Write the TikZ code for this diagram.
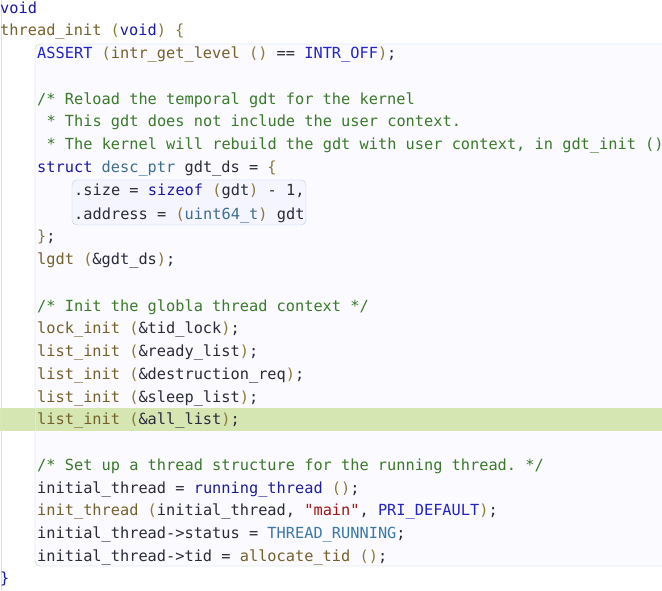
\documentclass[tikz,border=0pt]{standalone}
\usepackage{fontspec}
\setmonofont{DejaVu Sans Mono}
\definecolor{kw}{HTML}{1A1AA6}
\definecolor{fn}{HTML}{74612A}
\definecolor{pa}{HTML}{8A7A3A}
\definecolor{mac}{HTML}{2323C8}
\definecolor{typ}{HTML}{3E6E8E}
\definecolor{cst}{HTML}{3A78A8}
\definecolor{cmt}{HTML}{3A7A2A}
\definecolor{str}{HTML}{A31515}
\definecolor{var}{HTML}{2A2A3A}
\definecolor{rt}{HTML}{1E1E9A}
\definecolor{boxc}{HTML}{B8CFE0}
\definecolor{hl}{HTML}{D5E6B2}
\newcommand{\K}[1]{\textcolor{kw}{#1}}
\newcommand{\F}[1]{\textcolor{fn}{#1}}
\newcommand{\Pa}[1]{\textcolor{pa}{#1}}
\newcommand{\M}[1]{\textcolor{mac}{#1}}
\newcommand{\T}[1]{\textcolor{typ}{#1}}
\newcommand{\C}[1]{\textcolor{cmt}{#1}}
\newcommand{\Sx}[1]{\textcolor{str}{#1}}
\begin{document}
\begin{tikzpicture}[x=1pt,y=-1pt,
  ln/.style={anchor=base west,inner sep=0pt,font=\ttfamily\fontsize{15.3}{18}\selectfont,text=var}]
\useasboundingbox (0,0) rectangle (662,591);
\fill[white] (0,0) rectangle (662,591);
\fill[hl] (0,408) rectangle (662,431);
\draw[boxc,fill=blue!3,fill opacity=0.5,rounded corners=5pt] (35,44) rectangle (675,566);
\fill[hl] (35.5,408) rectangle (662,431);
\draw[boxc,fill=blue!4,rounded corners=5pt] (72,180) rectangle (306,225);
\draw[boxc!60] (0.8,0) -- (0.8,591);
\def\X{37}\def\Y#1{#1+5}
\node[ln] (l0) at (0,14) {\K{void}};
\node[ln] (l1) at (0,36) {\F{thread\_init} \Pa{(}\K{void}\Pa{)} \Pa{\{}};
\node[ln] (l2) at (37,59) {\M{ASSERT} \Pa{(}\F{intr\_get\_level} \Pa{()} == \M{INTR\_OFF}\Pa{)};};
\node[ln] (l4) at (37,105) {\C{/* Reload the temporal gdt for the kernel}};
\node[ln] (l5) at (46.3,127) {\C{* This gdt does not include the user context.}};
\node[ln] (l6) at (46.3,150) {\C{* The kernel will rebuild the gdt with user context, in gdt\_init ()}};
\node[ln] (l7) at (37,173) {\K{struct} \T{desc\_ptr} gdt\_ds = \Pa{\{}};
\node[ln] (l8) at (74,196) {.size = \K{sizeof} \Pa{(}gdt\Pa{)} - 1,};
\node[ln] (l9) at (74,219) {.address = \Pa{(}\T{uint64\_t}\Pa{)} gdt};
\node[ln] (l10) at (37,242) {\Pa{\}};};
\node[ln] (l11) at (37,265) {\F{lgdt} \Pa{(}\&gdt\_ds\Pa{)};};
\node[ln] (l13) at (37,311) {\C{/* Init the globla thread context */}};
\node[ln] (l14) at (37,333) {\F{lock\_init} \Pa{(}\&tid\_lock\Pa{)};};
\node[ln] (l15) at (37,356) {\F{list\_init} \Pa{(}\&ready\_list\Pa{)};};
\node[ln] (l16) at (37,379) {\F{list\_init} \Pa{(}\&destruction\_req\Pa{)};};
\node[ln] (l17) at (37,402) {\F{list\_init} \Pa{(}\&sleep\_list\Pa{)};};
\node[ln] (l18) at (37,424) {\F{list\_init} \Pa{(}\&all\_list\Pa{)};};
\node[ln] (l20) at (37,470) {\C{/* Set up a thread structure for the running thread. */}};
\node[ln] (l21) at (37,493) {initial\_thread = \textcolor{rt}{running\_thread} \Pa{()};};
\node[ln] (l22) at (37,515) {\F{init\_thread} \Pa{(}initial\_thread, \Sx{"main"}, \M{PRI\_DEFAULT}\Pa{)};};
\node[ln] (l23) at (37,538) {initial\_thread->status = \textcolor{cst}{THREAD\_RUNNING};};
\node[ln] (l24) at (37,561) {initial\_thread->tid = \F{allocate\_tid} \Pa{()};};
\node[ln] (l25) at (0,583) {\textcolor{kw}{\}}};
\end{tikzpicture}
\end{document}
